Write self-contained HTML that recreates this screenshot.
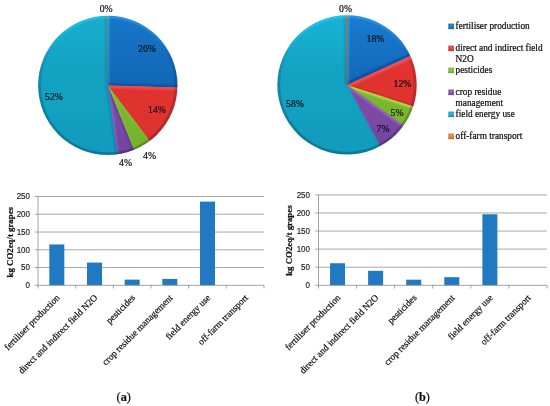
<!DOCTYPE html>
<html lang="en"><head><meta charset="utf-8"><title>GHG emissions charts</title>
<style>html,body{margin:0;padding:0;background:#fff;}svg{display:block;}.s{font-family:"Liberation Serif",serif;fill:#111;stroke:#111;stroke-width:0.22px;}.n{font-family:"Liberation Sans",sans-serif;fill:#222;stroke:#222;stroke-width:0.15px;}</style></head><body>
<svg width="550" height="406" viewBox="0 0 550 406">
<rect width="550" height="406" fill="#ffffff"/>
<defs>
<filter id="bev" x="-5%" y="-5%" width="110%" height="110%" color-interpolation-filters="sRGB">
<feOffset in="SourceAlpha" dx="1.2" dy="2.4" result="o1"/>
<feComposite in="SourceAlpha" in2="o1" operator="out" result="hl0"/>
<feGaussianBlur in="hl0" stdDeviation="1.1" result="hl1"/>
<feFlood flood-color="#ffffff" flood-opacity="0.85"/>
<feComposite in2="hl1" operator="in" result="hl"/>
<feOffset in="SourceAlpha" dx="-2.2" dy="-2.2" result="o2"/>
<feComposite in="SourceAlpha" in2="o2" operator="out" result="sh0"/>
<feGaussianBlur in="sh0" stdDeviation="1.1" result="sh1"/>
<feFlood flood-color="#000000" flood-opacity="0.35"/>
<feComposite in2="sh1" operator="in" result="sh"/>
<feBlend in="hl" in2="SourceGraphic" mode="overlay" result="b1"/>
<feBlend in="sh" in2="b1" mode="overlay" result="b2"/>
<feComposite in="b2" in2="SourceAlpha" operator="in"/>
</filter>
<radialGradient id="sq" cx="0.5" cy="0.35" r="0.75"><stop offset="0" stop-color="#fff" stop-opacity="0.35"/><stop offset="0.45" stop-color="#fff" stop-opacity="0"/><stop offset="1" stop-color="#000" stop-opacity="0.4"/></radialGradient>
<filter id="soft" x="-5%" y="-5%" width="110%" height="110%"><feGaussianBlur stdDeviation="0.6"/></filter>
</defs>
<clipPath id="pc1"><circle cx="107.8" cy="85.4" r="69.7"/></clipPath>
<linearGradient id="rg1" gradientUnits="userSpaceOnUse" x1="0" y1="15.700000000000003" x2="0" y2="155.10000000000002"><stop offset="0" stop-color="#ffd0ff" stop-opacity="0.35"/><stop offset="0.10" stop-color="#ffd0ff" stop-opacity="0.25"/><stop offset="0.26" stop-color="#ffd0ff" stop-opacity="0.0"/></linearGradient>
<linearGradient id="vg1" gradientUnits="userSpaceOnUse" x1="0" y1="15.700000000000003" x2="0" y2="155.10000000000002"><stop offset="0" stop-color="#ffc4ff" stop-opacity="0.26"/><stop offset="0.2" stop-color="#ffc4ff" stop-opacity="0.143"/><stop offset="0.45" stop-color="#ffc4ff" stop-opacity="0.0"/><stop offset="0.7" stop-color="#000" stop-opacity="0.0"/><stop offset="1" stop-color="#000" stop-opacity="0.08"/></linearGradient>
<linearGradient id="rd1" gradientUnits="userSpaceOnUse" x1="0" y1="15.700000000000003" x2="0" y2="155.10000000000002"><stop offset="0.22" stop-color="#000" stop-opacity="0"/><stop offset="0.38" stop-color="#002" stop-opacity="0.13"/><stop offset="0.6" stop-color="#002" stop-opacity="0.19"/><stop offset="1" stop-color="#002" stop-opacity="0.22"/></linearGradient>
<g clip-path="url(#pc1)">
<path d="M107.80,85.40 L107.80,6.70 A78.7,78.7 0 0 1 186.46,87.87 Z" fill="#1268b8" stroke="#1268b8" stroke-width="0.9"/>
<path d="M107.80,85.40 L186.46,87.87 A78.7,78.7 0 0 1 155.27,148.17 Z" fill="#e0322f" stroke="#e0322f" stroke-width="0.9"/>
<path d="M107.80,85.40 L155.27,148.17 A78.7,78.7 0 0 1 137.28,158.37 Z" fill="#79b82e" stroke="#79b82e" stroke-width="0.9"/>
<path d="M107.80,85.40 L137.28,158.37 A78.7,78.7 0 0 1 118.75,163.33 Z" fill="#7b4aa6" stroke="#7b4aa6" stroke-width="0.9"/>
<path d="M107.80,85.40 L118.75,163.33 A78.7,78.7 0 1 1 107.32,6.70 Z" fill="#12a1c0" stroke="#12a1c0" stroke-width="0.9"/>
<path d="M107.80,85.40 L107.80,6.70 A78.7,78.7 0 0 1 186.46,87.87 Z" fill="#1268b8" filter="url(#bev)"/>
<path d="M107.80,85.40 L186.46,87.87 A78.7,78.7 0 0 1 155.27,148.17 Z" fill="#e0322f" filter="url(#bev)"/>
<path d="M107.80,85.40 L155.27,148.17 A78.7,78.7 0 0 1 137.28,158.37 Z" fill="#79b82e" filter="url(#bev)"/>
<path d="M107.80,85.40 L137.28,158.37 A78.7,78.7 0 0 1 118.75,163.33 Z" fill="#7b4aa6" filter="url(#bev)"/>
<path d="M107.80,85.40 L118.75,163.33 A78.7,78.7 0 1 1 107.32,6.70 Z" fill="#12a1c0" filter="url(#bev)"/>
<path d="M107.80,85.40 L107.32,6.70 A78.7,78.7 0 0 1 107.80,6.70 Z" fill="#e8761c"/>
<circle cx="107.8" cy="85.4" r="69.7" fill="url(#vg1)" style="mix-blend-mode:overlay"/>
<circle cx="107.8" cy="85.4" r="68.5" fill="none" stroke="url(#rg1)" stroke-width="3.0" filter="url(#soft)" style="mix-blend-mode:overlay"/>
<circle cx="107.8" cy="85.4" r="68.4" fill="none" stroke="url(#rd1)" stroke-width="3.2" filter="url(#soft)"/>
<line x1="107.5" y1="15.700000000000003" x2="107.5" y2="85.4" stroke="#8a6a4a" stroke-width="0.7" opacity="0.6"/>
</g>
<text class="s" transform="translate(106.2,11.6) scale(1,1.1)" font-size="9.7" text-anchor="middle" >0%</text>
<text class="s" transform="translate(147,52) scale(1,1.1)" font-size="9.7" text-anchor="middle" >26%</text>
<text class="s" transform="translate(157,112.5) scale(1,1.1)" font-size="9.7" text-anchor="middle" >14%</text>
<text class="s" transform="translate(149.5,158.6) scale(1,1.1)" font-size="9.7" text-anchor="middle" >4%</text>
<text class="s" transform="translate(125.5,166) scale(1,1.1)" font-size="9.7" text-anchor="middle" >4%</text>
<text class="s" transform="translate(54,100) scale(1,1.1)" font-size="9.7" text-anchor="middle" >52%</text>
<clipPath id="pc2"><circle cx="347.0" cy="84.9" r="69.7"/></clipPath>
<linearGradient id="rg2" gradientUnits="userSpaceOnUse" x1="0" y1="15.200000000000003" x2="0" y2="154.60000000000002"><stop offset="0" stop-color="#ffd0ff" stop-opacity="0.35"/><stop offset="0.10" stop-color="#ffd0ff" stop-opacity="0.25"/><stop offset="0.26" stop-color="#ffd0ff" stop-opacity="0.0"/></linearGradient>
<linearGradient id="vg2" gradientUnits="userSpaceOnUse" x1="0" y1="15.200000000000003" x2="0" y2="154.60000000000002"><stop offset="0" stop-color="#ffc4ff" stop-opacity="0.36"/><stop offset="0.2" stop-color="#ffc4ff" stop-opacity="0.198"/><stop offset="0.45" stop-color="#ffc4ff" stop-opacity="0.0"/><stop offset="0.7" stop-color="#000" stop-opacity="0.0"/><stop offset="1" stop-color="#000" stop-opacity="0.08"/></linearGradient>
<linearGradient id="rd2" gradientUnits="userSpaceOnUse" x1="0" y1="15.200000000000003" x2="0" y2="154.60000000000002"><stop offset="0.22" stop-color="#000" stop-opacity="0"/><stop offset="0.38" stop-color="#002" stop-opacity="0.13"/><stop offset="0.6" stop-color="#002" stop-opacity="0.19"/><stop offset="1" stop-color="#002" stop-opacity="0.22"/></linearGradient>
<g clip-path="url(#pc2)">
<path d="M347.00,84.90 L347.00,6.20 A78.7,78.7 0 0 1 418.61,52.26 Z" fill="#1268b8" stroke="#1268b8" stroke-width="0.9"/>
<path d="M347.00,84.90 L418.61,52.26 A78.7,78.7 0 0 1 421.85,109.22 Z" fill="#e0322f" stroke="#e0322f" stroke-width="0.9"/>
<path d="M347.00,84.90 L421.85,109.22 A78.7,78.7 0 0 1 410.91,130.82 Z" fill="#79b82e" stroke="#79b82e" stroke-width="0.9"/>
<path d="M347.00,84.90 L410.91,130.82 A78.7,78.7 0 0 1 384.43,154.13 Z" fill="#7b4aa6" stroke="#7b4aa6" stroke-width="0.9"/>
<path d="M347.00,84.90 L384.43,154.13 A78.7,78.7 0 1 1 345.76,6.21 Z" fill="#12a1c0" stroke="#12a1c0" stroke-width="0.9"/>
<path d="M347.00,84.90 L347.00,6.20 A78.7,78.7 0 0 1 418.61,52.26 Z" fill="#1268b8" filter="url(#bev)"/>
<path d="M347.00,84.90 L418.61,52.26 A78.7,78.7 0 0 1 421.85,109.22 Z" fill="#e0322f" filter="url(#bev)"/>
<path d="M347.00,84.90 L421.85,109.22 A78.7,78.7 0 0 1 410.91,130.82 Z" fill="#79b82e" filter="url(#bev)"/>
<path d="M347.00,84.90 L410.91,130.82 A78.7,78.7 0 0 1 384.43,154.13 Z" fill="#7b4aa6" filter="url(#bev)"/>
<path d="M347.00,84.90 L384.43,154.13 A78.7,78.7 0 1 1 345.76,6.21 Z" fill="#12a1c0" filter="url(#bev)"/>
<path d="M347.00,84.90 L345.76,6.21 A78.7,78.7 0 0 1 347.00,6.20 Z" fill="#e8761c"/>
<circle cx="347.0" cy="84.9" r="69.7" fill="url(#vg2)" style="mix-blend-mode:overlay"/>
<circle cx="347.0" cy="84.9" r="68.5" fill="none" stroke="url(#rg2)" stroke-width="3.0" filter="url(#soft)" style="mix-blend-mode:overlay"/>
<circle cx="347.0" cy="84.9" r="68.4" fill="none" stroke="url(#rd2)" stroke-width="3.2" filter="url(#soft)"/>
<line x1="346.7" y1="15.200000000000003" x2="346.7" y2="84.9" stroke="#b8560f" stroke-width="0.9" opacity="0.9"/>
</g>
<text class="s" transform="translate(345.5,11.6) scale(1,1.1)" font-size="9.7" text-anchor="middle" >0%</text>
<text class="s" transform="translate(375.5,42) scale(1,1.1)" font-size="9.7" text-anchor="middle" >18%</text>
<text class="s" transform="translate(402.5,87) scale(1,1.1)" font-size="9.7" text-anchor="middle" >12%</text>
<text class="s" transform="translate(397,116) scale(1,1.1)" font-size="9.7" text-anchor="middle" >5%</text>
<text class="s" transform="translate(383,132) scale(1,1.1)" font-size="9.7" text-anchor="middle" >7%</text>
<text class="s" transform="translate(295,107) scale(1,1.1)" font-size="9.7" text-anchor="middle" >58%</text>
<text class="s" x="455.6" y="29" font-size="9.3" text-anchor="start" >fertiliser production</text>
<rect x="448.4" y="23.6" width="5.5" height="5.5" fill="#1268b8"/>
<rect x="448.4" y="23.6" width="5.5" height="5.5" fill="url(#sq)"/>
<text class="s" x="455.6" y="51" font-size="9.3" text-anchor="start" >direct and indirect field</text>
<rect x="448.4" y="45.6" width="5.5" height="5.5" fill="#e0322f"/>
<rect x="448.4" y="45.6" width="5.5" height="5.5" fill="url(#sq)"/>
<text class="s" x="455.6" y="62" font-size="9.3" text-anchor="start" >N2O</text>
<text class="s" x="455.6" y="73" font-size="9.3" text-anchor="start" >pesticides</text>
<rect x="448.4" y="67.6" width="5.5" height="5.5" fill="#79b82e"/>
<rect x="448.4" y="67.6" width="5.5" height="5.5" fill="url(#sq)"/>
<text class="s" x="455.6" y="95" font-size="9.3" text-anchor="start" >crop residue</text>
<rect x="448.4" y="89.6" width="5.5" height="5.5" fill="#7b4aa6"/>
<rect x="448.4" y="89.6" width="5.5" height="5.5" fill="url(#sq)"/>
<text class="s" x="455.6" y="106" font-size="9.3" text-anchor="start" >management</text>
<text class="s" x="455.6" y="117" font-size="9.3" text-anchor="start" >field energy use</text>
<rect x="448.4" y="111.6" width="5.5" height="5.5" fill="#12a1c0"/>
<rect x="448.4" y="111.6" width="5.5" height="5.5" fill="url(#sq)"/>
<text class="s" x="455.6" y="139" font-size="9.3" text-anchor="start" >off-farm transport</text>
<rect x="448.4" y="133.6" width="5.5" height="5.5" fill="#e8761c"/>
<rect x="448.4" y="133.6" width="5.5" height="5.5" fill="url(#sq)"/>
<line x1="34.8" y1="285.30" x2="38.0" y2="285.30" stroke="#8c8c8c" stroke-width="0.8"/>
<text class="n" transform="translate(30,288.15) scale(1,1.13)" font-size="8.0" text-anchor="end" >0</text>
<line x1="38.0" y1="267.54" x2="264" y2="267.54" stroke="#9e9e9e" stroke-width="0.9"/>
<line x1="34.8" y1="267.54" x2="38.0" y2="267.54" stroke="#8c8c8c" stroke-width="0.8"/>
<text class="n" transform="translate(30,270.39) scale(1,1.13)" font-size="8.0" text-anchor="end" >50</text>
<line x1="38.0" y1="249.78" x2="264" y2="249.78" stroke="#9e9e9e" stroke-width="0.9"/>
<line x1="34.8" y1="249.78" x2="38.0" y2="249.78" stroke="#8c8c8c" stroke-width="0.8"/>
<text class="n" transform="translate(30,252.63) scale(1,1.13)" font-size="8.0" text-anchor="end" >100</text>
<line x1="38.0" y1="232.02" x2="264" y2="232.02" stroke="#9e9e9e" stroke-width="0.9"/>
<line x1="34.8" y1="232.02" x2="38.0" y2="232.02" stroke="#8c8c8c" stroke-width="0.8"/>
<text class="n" transform="translate(30,234.87) scale(1,1.13)" font-size="8.0" text-anchor="end" >150</text>
<line x1="38.0" y1="214.26" x2="264" y2="214.26" stroke="#9e9e9e" stroke-width="0.9"/>
<line x1="34.8" y1="214.26" x2="38.0" y2="214.26" stroke="#8c8c8c" stroke-width="0.8"/>
<text class="n" transform="translate(30,217.11) scale(1,1.13)" font-size="8.0" text-anchor="end" >200</text>
<line x1="38.0" y1="196.50" x2="264" y2="196.50" stroke="#9e9e9e" stroke-width="0.9"/>
<line x1="34.8" y1="196.50" x2="38.0" y2="196.50" stroke="#8c8c8c" stroke-width="0.8"/>
<text class="n" transform="translate(30,199.35) scale(1,1.13)" font-size="8.0" text-anchor="end" >250</text>
<rect x="49.33" y="244.45" width="15" height="40.85" fill="#2079c1"/>
<rect x="87.00" y="262.57" width="15" height="22.73" fill="#2079c1"/>
<rect x="124.67" y="279.62" width="15" height="5.68" fill="#2079c1"/>
<rect x="162.33" y="278.91" width="15" height="6.39" fill="#2079c1"/>
<rect x="200.00" y="201.61" width="15" height="83.69" fill="#2079c1"/>
<line x1="38.0" y1="196.50" x2="38.0" y2="288.5" stroke="#8c8c8c" stroke-width="0.8"/>
<line x1="38.0" y1="285.3" x2="264" y2="285.3" stroke="#8c8c8c" stroke-width="0.8"/>
<line x1="75.67" y1="285.3" x2="75.67" y2="288.5" stroke="#8c8c8c" stroke-width="0.8"/>
<line x1="113.33" y1="285.3" x2="113.33" y2="288.5" stroke="#8c8c8c" stroke-width="0.8"/>
<line x1="151.00" y1="285.3" x2="151.00" y2="288.5" stroke="#8c8c8c" stroke-width="0.8"/>
<line x1="188.67" y1="285.3" x2="188.67" y2="288.5" stroke="#8c8c8c" stroke-width="0.8"/>
<line x1="226.33" y1="285.3" x2="226.33" y2="288.5" stroke="#8c8c8c" stroke-width="0.8"/>
<line x1="264.00" y1="285.3" x2="264.00" y2="288.5" stroke="#8c8c8c" stroke-width="0.8"/>
<text class="s" font-size="9.3" text-anchor="end" transform="translate(60.33,298.3) rotate(-45)">fertiliser production</text>
<text class="s" font-size="9.3" text-anchor="end" transform="translate(98.00,298.3) rotate(-45)">direct and indirect field N2O</text>
<text class="s" font-size="9.3" text-anchor="end" transform="translate(135.67,298.3) rotate(-45)">pesticides</text>
<text class="s" font-size="9.3" text-anchor="end" transform="translate(173.33,298.3) rotate(-45)">crop residue management</text>
<text class="s" font-size="9.3" text-anchor="end" transform="translate(211.00,298.3) rotate(-45)">field energy use</text>
<text class="s" font-size="9.3" text-anchor="end" transform="translate(248.67,298.3) rotate(-45)">off-farm transport</text>
<text class="s" font-size="8.8" font-weight="bold" stroke-width="0.2" text-anchor="middle" transform="translate(13.0,242.2) rotate(-90)">kg CO2eq/t grapes</text>
<text class="s" font-size="12.2" stroke-width="0.08" text-anchor="middle" x="123.7" y="400.6">(<tspan font-weight="bold">a</tspan>)</text>
<line x1="315.3" y1="285.30" x2="318.5" y2="285.30" stroke="#8c8c8c" stroke-width="0.8"/>
<text class="n" transform="translate(310,288.15) scale(1,1.13)" font-size="8.0" text-anchor="end" >0</text>
<line x1="318.5" y1="267.22" x2="547" y2="267.22" stroke="#9e9e9e" stroke-width="0.9"/>
<line x1="315.3" y1="267.22" x2="318.5" y2="267.22" stroke="#8c8c8c" stroke-width="0.8"/>
<text class="n" transform="translate(310,270.07) scale(1,1.13)" font-size="8.0" text-anchor="end" >50</text>
<line x1="318.5" y1="249.14" x2="547" y2="249.14" stroke="#9e9e9e" stroke-width="0.9"/>
<line x1="315.3" y1="249.14" x2="318.5" y2="249.14" stroke="#8c8c8c" stroke-width="0.8"/>
<text class="n" transform="translate(310,251.99) scale(1,1.13)" font-size="8.0" text-anchor="end" >100</text>
<line x1="318.5" y1="231.06" x2="547" y2="231.06" stroke="#9e9e9e" stroke-width="0.9"/>
<line x1="315.3" y1="231.06" x2="318.5" y2="231.06" stroke="#8c8c8c" stroke-width="0.8"/>
<text class="n" transform="translate(310,233.91) scale(1,1.13)" font-size="8.0" text-anchor="end" >150</text>
<line x1="318.5" y1="212.98" x2="547" y2="212.98" stroke="#9e9e9e" stroke-width="0.9"/>
<line x1="315.3" y1="212.98" x2="318.5" y2="212.98" stroke="#8c8c8c" stroke-width="0.8"/>
<text class="n" transform="translate(310,215.83) scale(1,1.13)" font-size="8.0" text-anchor="end" >200</text>
<line x1="318.5" y1="194.90" x2="547" y2="194.90" stroke="#9e9e9e" stroke-width="0.9"/>
<line x1="315.3" y1="194.90" x2="318.5" y2="194.90" stroke="#8c8c8c" stroke-width="0.8"/>
<text class="n" transform="translate(310,197.75) scale(1,1.13)" font-size="8.0" text-anchor="end" >250</text>
<rect x="330.04" y="263.24" width="15" height="22.06" fill="#2079c1"/>
<rect x="368.12" y="270.84" width="15" height="14.46" fill="#2079c1"/>
<rect x="406.21" y="279.70" width="15" height="5.60" fill="#2079c1"/>
<rect x="444.29" y="277.16" width="15" height="8.14" fill="#2079c1"/>
<rect x="482.38" y="214.25" width="15" height="71.05" fill="#2079c1"/>
<line x1="318.5" y1="194.90" x2="318.5" y2="288.5" stroke="#8c8c8c" stroke-width="0.8"/>
<line x1="318.5" y1="285.3" x2="547" y2="285.3" stroke="#8c8c8c" stroke-width="0.8"/>
<line x1="356.58" y1="285.3" x2="356.58" y2="288.5" stroke="#8c8c8c" stroke-width="0.8"/>
<line x1="394.67" y1="285.3" x2="394.67" y2="288.5" stroke="#8c8c8c" stroke-width="0.8"/>
<line x1="432.75" y1="285.3" x2="432.75" y2="288.5" stroke="#8c8c8c" stroke-width="0.8"/>
<line x1="470.83" y1="285.3" x2="470.83" y2="288.5" stroke="#8c8c8c" stroke-width="0.8"/>
<line x1="508.92" y1="285.3" x2="508.92" y2="288.5" stroke="#8c8c8c" stroke-width="0.8"/>
<line x1="547.00" y1="285.3" x2="547.00" y2="288.5" stroke="#8c8c8c" stroke-width="0.8"/>
<text class="s" font-size="9.3" text-anchor="end" transform="translate(341.04,298.3) rotate(-45)">fertiliser production</text>
<text class="s" font-size="9.3" text-anchor="end" transform="translate(379.12,298.3) rotate(-45)">direct and indirect field N2O</text>
<text class="s" font-size="9.3" text-anchor="end" transform="translate(417.21,298.3) rotate(-45)">pesticides</text>
<text class="s" font-size="9.3" text-anchor="end" transform="translate(455.29,298.3) rotate(-45)">crop residue management</text>
<text class="s" font-size="9.3" text-anchor="end" transform="translate(493.38,298.3) rotate(-45)">field energy use</text>
<text class="s" font-size="9.3" text-anchor="end" transform="translate(531.46,298.3) rotate(-45)">off-farm transport</text>
<text class="s" font-size="8.8" font-weight="bold" stroke-width="0.2" text-anchor="middle" transform="translate(292.4,240.6) rotate(-90)">kg CO2eq/t grapes</text>
<text class="s" font-size="12.2" stroke-width="0.08" text-anchor="middle" x="422.4" y="400.6">(<tspan font-weight="bold">b</tspan>)</text>
</svg></body></html>
